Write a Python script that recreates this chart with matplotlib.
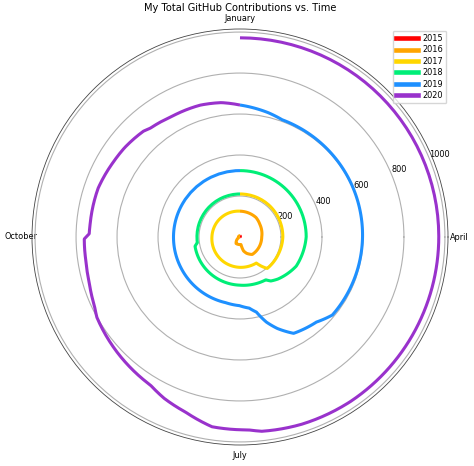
import numpy as np
import matplotlib.pyplot as plt
from matplotlib.lines import Line2D

years = ['2015', '2016', '2017', '2018', '2019', '2020']
colors = ['#ff0000', '#ffa500', '#ffd700', '#00ee77', '#1e90ff', '#9932cc']

# day of year -> running total of contributions
days_2015 = [300, 330, 365]
total_2015 = [0, 3, 6]

days_2016 = [0, 120, 151, 190, 197, 205, 218, 240, 274, 307, 325, 350, 365]
total_2016 = [6, 8, 37, 37, 70, 86, 104, 105, 106, 115, 123, 125, 126]

days_2017 = [0, 30, 60, 91, 120, 150, 182, 215, 219, 224, 250, 274, 320, 365]
total_2017 = [126, 130, 134, 137, 141, 145, 148, 150, 175, 203, 205, 209, 210, 210]

days_2018 = [0, 50, 99, 103, 144, 182, 214, 218, 225, 246, 260, 274, 365]
total_2018 = [210, 210, 210, 224, 230, 235, 244, 262, 276, 309, 316, 323, 324]

days_2019 = [0, 60, 120, 170, 182, 190, 195, 200, 205, 212, 225, 233, 274,
             300, 345, 352, 358, 365]
total_2019 = [324, 324, 325, 328, 335, 350, 375, 435, 482, 538, 558, 590, 598,
              602, 608, 622, 632, 644]

days_2020 = [0, 8, 17, 30, 40, 43, 53, 60, 72, 86, 90, 92, 100, 108, 117, 121,
             135, 151, 157, 165, 174, 185, 189, 201, 217, 274, 365]
total_2020 = [644, 662, 672, 676, 688, 699, 712, 718, 732, 734, 736, 760, 761,
              768, 786, 801, 822, 845, 870, 895, 936, 942, 954, 962, 967, 970, 972]

all_days = [days_2015, days_2016, days_2017, days_2018, days_2019, days_2020]
all_totals = [total_2015, total_2016, total_2017, total_2018, total_2019, total_2020]

month_labels = ['January', 'April', 'July', 'October']
month_angles = [90, 0, 270, 180]

fig = plt.figure(figsize=(4.74, 4.66), dpi=100)
ax = fig.add_axes([32 / 474, 21 / 466, 416 / 474, 416 / 466], projection='polar')

for d, t, c in zip(all_days, all_totals, colors):
    theta = np.pi / 2 + 2 * np.pi * np.array(d) / 365
    ln, = ax.plot(theta, t, color=c, lw=2.2, solid_capstyle='butt')
    ln.get_path()._interpolation_steps = 30

ax.set_ylim(0, 1015)
ax.set_yticks([200, 400, 600, 800, 1000])
ax.set_xticks(np.deg2rad(month_angles))
ax.set_xticklabels(month_labels)
ax.xaxis.grid(False)
ax.yaxis.grid(True, color='#b0b0b0', lw=0.8)
ax.tick_params(labelsize=5.9)
ax.tick_params(axis='x', pad=-2.6)
ax.spines['polar'].set_linewidth(0.6)
ax.spines['polar'].set_color('#444444')

handles = [Line2D([0], [0], color=c, lw=3.3) for c in colors]
ax.legend(handles, years, loc='upper right', fontsize=5.9, handlelength=2.7,
          handletextpad=0.5, labelspacing=0.3, borderaxespad=0.2)

ax.set_title('My Total GitHub Contributions vs. Time', fontsize=7.1, pad=2)

fig.savefig('out.png', dpi=100)
